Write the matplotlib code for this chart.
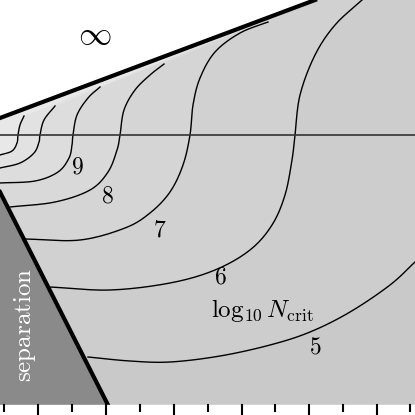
import matplotlib
matplotlib.use("Agg")
import matplotlib.pyplot as plt
import numpy as np

plt.rcParams['mathtext.fontset'] = 'cm'
plt.rcParams['font.family'] = ['DejaVu Serif']

# contour levels (log10 N_crit) traced in picture coordinates (x, y from top)
c5_x = [88, 130, 170, 220, 270, 310, 350, 390, 415]
c5_y = [357, 361, 362, 356, 345, 332, 312, 285, 262]
c6_x = [50, 110, 170, 215, 250, 272, 285, 292, 295, 300, 315, 335, 362]
c6_y = [287, 290, 283, 270, 250, 225, 195, 160, 135, 95, 55, 25, 0]
c7_x = [25, 80, 125, 150, 170, 183, 190, 193, 200, 215, 240, 268]
c7_y = [239, 240, 228, 213, 192, 165, 135, 105, 78, 52, 33, 22]
c8_x = [10, 55, 90, 108, 117, 120, 124, 135, 150, 164]
c8_y = [207, 202, 190, 172, 150, 135, 110, 90, 75, 64]
c9_x = [0, 35, 58, 69, 72, 73, 77, 88, 100]
c9_y = [183, 181, 172, 158, 145, 135, 115, 98, 87]
c10_x = [0, 20, 34, 39, 40, 44, 55]
c10_y = [168, 163, 153, 142, 135, 120, 106]
c11_x = [0, 12, 17, 18, 20, 24]
c11_y = [155, 151, 143, 135, 125, 116]
contours = [(c5_x, c5_y), (c6_x, c6_y), (c7_x, c7_y), (c8_x, c8_y),
            (c9_x, c9_y), (c10_x, c10_y), (c11_x, c11_y)]
shades = ['#cdcdcd', '#d1d1d1', '#d5d5d5', '#d9d9d9', '#dddddd', '#e2e2e2', '#e8e8e8']
label_levels = ['5', '6', '7', '8', '9']
label_pos = [(315, 347), (220, 277), (160, 230), (107, 196), (77, 167)]

bound_x = [0, 315]      # stability boundary
bound_y = [118, 0]
sep_x = [0, 108]        # separation boundary
sep_y = [192, 405]


def smooth(xs, ys, n=12):
    # Catmull-Rom rendering of the traced polyline
    p = np.column_stack([xs, ys]).astype(float)
    p = np.vstack([2 * p[0] - p[1], p, 2 * p[-1] - p[-2]])
    out = []
    for i in range(1, len(p) - 2):
        p0, p1, p2, p3 = p[i - 1], p[i], p[i + 1], p[i + 2]
        for t in np.linspace(0, 1, n, endpoint=False):
            out.append(0.5 * ((2 * p1) + (-p0 + p2) * t + (2 * p0 - 5 * p1 + 4 * p2 - p3) * t ** 2
                              + (-p0 + 3 * p1 - 3 * p2 + p3) * t ** 3))
    out.append(p[-2])
    out = np.array(out)
    return list(out[:, 0]), list(out[:, 1])


fig = plt.figure(figsize=(4.15, 4.15), dpi=100)
ax = fig.add_axes([0, 0, 1, 1])
ax.set_xlim(0, 415)
ax.set_ylim(415, 0)
ax.axis('off')

ax.fill([0, 415, 415, 0], [0, 0, 405, 405], color='#c9c9c9', zorder=0)
for (cx, cy), sh in zip(contours, shades):
    px, py = smooth(cx, cy)
    if cx[-1] >= 415:
        px += [415]; py += [0]
    px += [bound_x[1], bound_x[0], 0]
    py += [bound_y[1], bound_y[0], cy[0]]
    ax.fill(px, py, color=sh, zorder=1, lw=0)
for cx, cy in contours:
    sx, sy = smooth(cx, cy)
    ax.plot(sx, sy, color='black', lw=1.0, zorder=3)

ax.fill([0, bound_x[1], 0], [0, 0, bound_y[0]], color='white', zorder=4)
ax.plot(bound_x, bound_y, color='black', lw=3, zorder=5)
ax.fill([0, sep_x[0], sep_x[1], 0], [sep_y[0], sep_y[0], sep_y[1], sep_y[1]],
        color='#8a8a8a', zorder=4, lw=0)
ax.plot(sep_x, sep_y, color='black', lw=3, zorder=5)
ax.axhline(135, color='#333333', lw=1.2, zorder=3)

ax.fill([0, 415, 415, 0], [405, 405, 415, 415], color='white', zorder=6)
ticks_long = [38, 106, 174, 242, 309, 377]
ticks_short = [4, 72, 140, 208, 275, 343, 410]
for t in ticks_long:
    ax.plot([t, t], [405, 415], color='black', lw=1.5, zorder=7)
for t in ticks_short:
    ax.plot([t, t], [405, 411], color='black', lw=1.5, zorder=7)

for lab, (x, y) in zip(label_levels, label_pos):
    ax.text(x, y, '$' + lab + '$', fontsize=17, ha='center', va='center', zorder=8)
ax.text(263, 310, r'$\log_{10} N_{\rm crit}$', fontsize=18, ha='center', va='center', zorder=8)
ax.text(95, 35, r'$\infty$', fontsize=24, ha='center', va='center', zorder=8)
ax.text(25, 325, r'$\rm separation$', rotation=90, color='white', fontsize=18,
        ha='center', va='center', zorder=8)

fig.savefig('out.png', dpi=100)
